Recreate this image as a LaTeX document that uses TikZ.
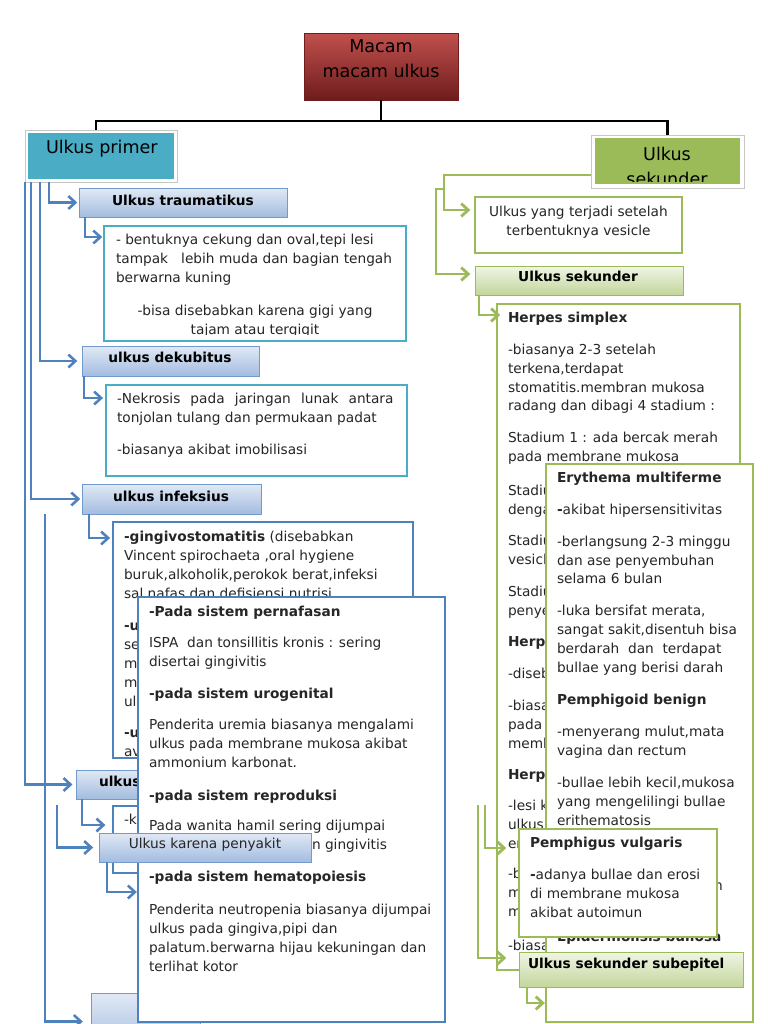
\documentclass[tikz,border=0pt]{standalone}
\usepackage{fontspec}
\setmainfont{DejaVu Sans}
\usetikzlibrary{arrows.meta,calc,fit}

\definecolor{ublue}{HTML}{4F81BD}
\definecolor{uteal}{HTML}{4BACC6}
\definecolor{ugreen}{HTML}{9BBB59}
\definecolor{gbtop}{HTML}{E1E9F5}
\definecolor{gbbot}{HTML}{A3BCDF}
\definecolor{ggtop}{HTML}{F0F5E6}
\definecolor{ggbot}{HTML}{C3D69B}
\definecolor{rtop}{HTML}{C0504D}
\definecolor{rbot}{HTML}{6E1C1C}

\newlength{\px}
\setlength{\px}{0.03cm}

\tikzset{
  bline/.style={black, line width=2.5pt},
  bluln/.style={ublue, line width=2.2pt},
  gline/.style={ugreen, line width=2.4pt},
  arr/.style={-{Straight Barb[length=6pt,width=11pt]}, shorten >=1.5pt},
  ubox/.style={inner sep=0pt, outer sep=0pt},
  bluegrad/.style={ubox, top color=gbtop, bottom color=gbbot, draw=ublue!80, line width=0.8pt},
  greengrad/.style={ubox, top color=ggtop, bottom color=ggbot, draw=ugreen, line width=0.8pt},
  tealbox/.style={ubox, fill=white, draw=uteal, line width=2.2pt},
  bluebox/.style={ubox, fill=white, draw=ublue, line width=1.8pt},
  greenbox/.style={ubox, fill=white, draw=ugreen, line width=2.4pt},
  txt/.style={inner sep=0pt, outer sep=0pt, anchor=north west, align=left, text=black!85,
    font=\fontsize{11.7}{16.16}\selectfont},
  lbl/.style={inner sep=0pt, outer sep=0pt, anchor=base, text=black,
    font=\fontsize{11.7}{16.16}\selectfont},
  big/.style={inner sep=0pt, outer sep=0pt, text=black, font=\fontsize{15}{21}\selectfont},
}

\begin{document}
\begin{tikzpicture}[x=0.03cm, y=-0.03cm]
\useasboundingbox (0,0) rectangle (768,1024);
\clip (0,0) rectangle (768,1024);
\fill[white] (0,0) rectangle (768,1024);

% judul
\node[ubox, fit={(304,33) (458,100)}, top color=rtop, bottom color=rbot, draw=rbot, line width=0.8pt] (title) {};
\node[big, align=center, anchor=north] (titlet) at (381,35.5) {\strut Macam\\macam ulkus};

% ulkus primer
\node[ubox, fit={(25,130) (177,182)}, fill=white, draw=black!22, line width=0.6pt] (uprim) {};
\fill[uteal] ($(uprim.south west)+(3,-3)$) rectangle ($(uprim.north east)+(-3,3)$);
\node[big, anchor=base west] (uprimt) at (46,153) {Ulkus primer};

% ulkus sekunder
\node[ubox, fit={(591,135) (744,188)}, fill=white, draw=black!22, line width=0.6pt] (usek) {};
\fill[ugreen] (595,138) rectangle (740,184);
\begin{scope}
\clip (595,138) rectangle (740,181);
\node[big, align=center, anchor=north] (usekt) at (667,143.5) {\strut Ulkus\\sekunder};
\end{scope}

\draw[bline] (title.south) -- ++(0,21) coordinate (tj) -| ($(uprim.north)+(-5,0)$);
\draw[bline] (tj) -| (usek.north);

% kiri
\node[bluegrad, fit={(79,188) (287,217)}] (trauma) {};
\node[lbl] (traumat) at (183,205.5) {\textbf{Ulkus traumatikus}};

\node[tealbox, fit={(104,226) (406,341)}] (tdet) {};
\begin{scope}
\clip ($(tdet.south west)+(2,-7)$) rectangle ($(tdet.north east)+(-2,2)$);
\node[txt] (tdett) at (116,231) {\strut - bentuknya cekung dan oval,tepi lesi\\tampak\ \ \ lebih muda dan bagian tengah\\berwarna kuning};
\node[txt, anchor=north, align=center] (tdetc) at (255,302) {\strut -bisa disebabkan karena gigi yang\\tajam atau tergigit};
\end{scope}

\node[bluegrad, fit={(82,346) (259,376)}] (dekub) {};
\node[lbl] (dekubt) at (170,362.5) {\textbf{ulkus dekubitus}};

\node[tealbox, fit={(106,385) (407,476)}] (ddet) {};
\node[txt] (ddett) at (117,390) {\strut\makebox[236pt][s]{-Nekrosis pada jaringan lunak antara}\\tonjolan tulang dan permukaan padat\\[13\px]-biasanya akibat imobilisasi};

\node[bluegrad, fit={(82,484) (261,514)}] (infek) {};
\node[lbl] (infekt) at (171,501.5) {\textbf{ulkus infeksius}};

\node[bluebox, fit={(113,522) (413,758)}] (idet) {};
\begin{scope}
\clip ($(idet.south west)+(1,-1)$) rectangle ($(idet.north east)+(-1,1)$);
\node[txt] (idett) at (124,528) {\strut\textbf{-gingivostomatitis} (disebabkan\\Vincent spirochaeta ,oral hygiene\\buruk,alkoholik,perokok berat,infeksi\\sal.nafas dan defisiensi nutrisi\\[14\px]\textbf{-u}\\se\\m\\m\\ul\\[12\px]\textbf{-u}\\av};
\end{scope}

\node[bluegrad, fit={(76,770) (200,799)}] (ulk4) {};
\node[lbl, anchor=base west] (ulk4t) at (99,786.5) {\textbf{ulkus}};

\node[bluebox, fit={(113,806) (300,873)}] (kbox) {};
\node[txt] (kboxt) at (124,811) {\strut -k};

\node[bluegrad, fit={(91,993) (200,1050)}] (bottbox) {};

\coordinate (t5) at (45,514);
\coordinate (t6) at (57,805);

\draw[bluln,arr] ($(uprim.south west)+(24,0)$) |- (trauma.west);
\draw[bluln,arr,shorten >=4pt] ($(uprim.south west)+(15,0)$) |- (dekub.west);
\draw[bluln,arr] ($(uprim.south west)+(6,0)$) |- (infek.west);
\draw[bluln,arr,shorten >=3pt] (uprim.south west) |- (ulk4.west);
\draw[bluln,arr] ($(trauma.south west)+(6,0)$) |- ($(tdet.north west)+(0,11)$);
\draw[bluln,arr,shorten >=2.5pt] ($(dekub.south west)+(2,0)$) |- ($(ddet.north west)+(0,13)$);
\draw[bluln,arr,shorten >=2.5pt] ($(infek.south west)+(7,0)$) |- ($(idet.north west)+(0,16)$);
\draw[bluln,arr,shorten >=6.5pt] ($(ulk4.south west)+(6,0)$) |- ($(kbox.north west)+(0,19)$);
\draw[bluln,arr,shorten >=7pt] (t5) |- (bottbox.west);

% pada sistem
\node[bluebox, fit={(138,597) (445,1022)}] (pada) {};
\node[txt] (padat) at (149,603) {\strut\textbf{-Pada sistem pernafasan}\\[12\px]
ISPA\ \ dan tonsillitis kronis : sering\\disertai gingivitis\\[13\px]
\textbf{-pada sistem urogenital}\\[13\px]
Penderita uremia biasanya mengalami\\ulkus pada membrane mukosa akibat\\ammonium karbonat.\\[14\px]
\textbf{-pada sistem reproduksi}\\[11\px]
Pada wanita hamil sering dijumpai\\\hspace*{163\px}n gingivitis\\[13\px]
\textbf{-pada sistem hematopoiesis}\\[14\px]
Penderita neutropenia biasanya dijumpai\\ulkus pada gingiva,pipi dan\\palatum.berwarna hijau kekuningan dan\\terlihat kotor};

\node[bluegrad, fit={(99,833) (311,862)}] (sakit) {};
\node[lbl, text=black!85] (sakitt) at (205,848.5) {Ulkus karena penyakit};
\draw[bluln,arr,shorten >=5pt] (t6) |- (sakit.west);
\draw[bluln,arr,shorten >=1pt] ($(sakit.south west)+(8,0)$) |- ($(pada.north west)+(0,295)$);

% kanan
\node[greenbox, fit={(475,197) (682,253)}] (yang) {};
\node[txt, anchor=north, align=center] (yangt) at (578.5,203) {\strut Ulkus yang terjadi setelah\\terbentuknya vesicle};

\node[greengrad, fit={(475,266) (683,295)}] (usek2) {};
\node[lbl] (usek2t) at (578,281.5) {\textbf{Ulkus sekunder}};

\coordinate (gfork) at (444,189);
\draw[gline,arr,shorten >=4pt] ($(usek.south west)+(0,-13)$) -| ($(yang.north west)+(-31,13)$) -- ($(yang.north west)+(0,13)$);
\draw[gline,arr,shorten >=4pt] (gfork) -- ++(-8,0) |- ($(usek2.north west)+(0,8)$);

\node[greenbox, fit={(497,304) (740,970)}] (herp) {};
\node[txt] (herpt) at (508,309) {\strut\textbf{Herpes simplex}\\[13\px]
-biasanya 2-3 setelah\\terkena,terdapat\\stomatitis.membran mukosa\\radang dan dibagi 4 stadium :\\[13\px]
Stadium 1 : ada bercak merah\\pada membrane mukosa\\[15\px]
Stadium 2\\dengan\\[12\px]
Stadium 3\\vesicle\\[13\px]
Stadium 4\\penyembuhan\\[12\px]
\textbf{Herpes}\\[13\px]
-disebabkan\\[13\px]
-biasanya\\pada\\membrane\\[12\px]
\textbf{Herpes}\\[13\px]
-lesi kecil\\ulkus\\er\\[11\px]
-b\\m\\m\\[15\px]
-biasanya};
\draw[gline,arr] ($(usek2.south west)+(4,0)$) |- ($(herp.north west)+(5,11)$);

\node[greenbox, fit={(546,464) (753,1022)}] (ery) {};
\node[txt] (eryt) at (557,469) {\strut\textbf{Erythema multiferme}\\[13\px]
\textbf{-}akibat hipersensitivitas\\[13\px]
-berlangsung 2-3 minggu\\dan ase penyembuhan\\selama 6 bulan\\[13\px]
-luka bersifat merata,\\sangat sakit,disentuh bisa\\berdarah\ \ dan\ \ terdapat\\bullae yang berisi darah\\[13\px]
\textbf{Pemphigoid benign}\\[13\px]
-menyerang mulut,mata\\vagina dan rectum\\[13\px]
-bullae lebih kecil,mukosa\\yang mengelilingi bullae\\erithematosis\\[46\px]
\hspace*{157\px}n\\[32\px]
\textbf{Epidermolisis bullosa}};

\node[greenbox, fit={(519,829) (717,937)}] (pemph) {};
\node[txt] (pempht) at (530,834) {\strut\textbf{Pemphigus vulgaris}\\[13\px]
\textbf{-}adanya bullae dan erosi\\di membrane mukosa\\akibat autoimun};

\node[greengrad, fit={(519,952) (743,987)}] (subep) {};
\node[lbl, anchor=base west] (subept) at (528,968.5) {\textbf{Ulkus sekunder subepitel}};

\coordinate (h1) at (478,805);
\coordinate (h2) at (485,805);
\draw[gline,arr] (h2) |- ($(pemph.north west)+(-11,19)$);
\draw[gline,arr] (h1) |- ($(subep.north west)+(-11,6)$);
\draw[gline,arr,shorten >=1pt] ($(subep.south west)+(8,0)$) |- ($(ery.south west)+(0,-19)$);

\end{tikzpicture}
\end{document}
